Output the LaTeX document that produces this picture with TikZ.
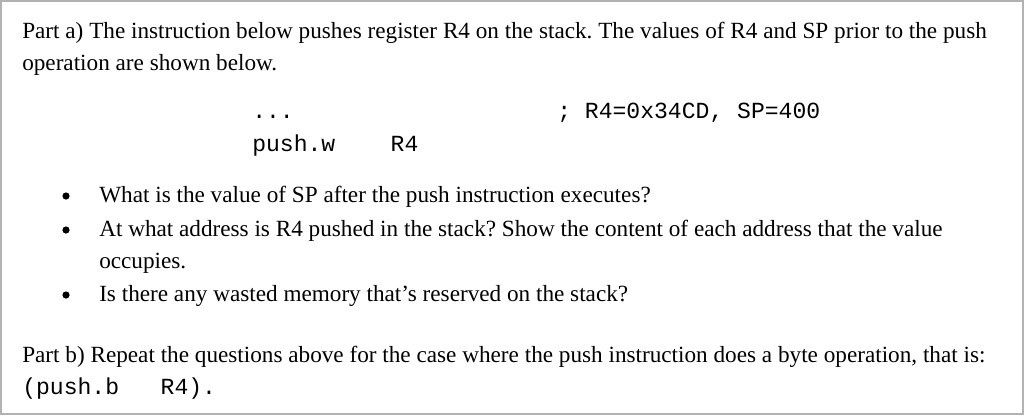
\documentclass[tikz,border=0pt]{standalone}
\usepackage{fontspec}
\setmainfont{Liberation Serif}
\newfontfamily\cour{Liberation Mono}
\frenchspacing
\begin{document}
\begin{tikzpicture}[x=0.75pt,y=-0.75pt,
  t/.style={anchor=base west,inner sep=0pt,font=\fontsize{17.4}{19}\selectfont},
  m/.style={anchor=base west,inner sep=0pt,font=\cour\fontsize{17.3}{19}\selectfont}]
\useasboundingbox (0,0) rectangle (1024,415);
\draw[gray!60,line width=1.5pt] (1,1) rectangle (1023,414);
\node[t] (l1) at (22,38) {Part a) The instruction below pushes register R4 on the stack. The values of R4 and SP prior to the push};
\node[t] (l2) at (22,70) {operation are shown below.};
\node[m] (c1) at (252,118) {...};
\node[m] (c2) at (557,118) {; R4=0x34CD, SP=400};
\node[m] (c3) at (252,151) {push.w\ \ \ \ R4};
\foreach \y/\n in {196/b1,230/b2,295/b3}
  \fill (66,\y) circle (3.6) coordinate (\n);
\node[t] (q1) at (99,202) {What is the value of SP after the push instruction executes?};
\node[t] (q2) at (99,236) {At what address is R4 pushed in the stack? Show the content of each address that the value};
\node[t] (q2b) at (99,268) {occupies.};
\node[t] (q3) at (99,301) {Is there any wasted memory that’s reserved on the stack?};
\node[t] (p1) at (22,362) {Part b) Repeat the questions above for the case where the push instruction does a byte operation, that is:};
\node[m] (p2) at (22,394) {(push.b\ \ \ R4).};
\end{tikzpicture}
\end{document}
